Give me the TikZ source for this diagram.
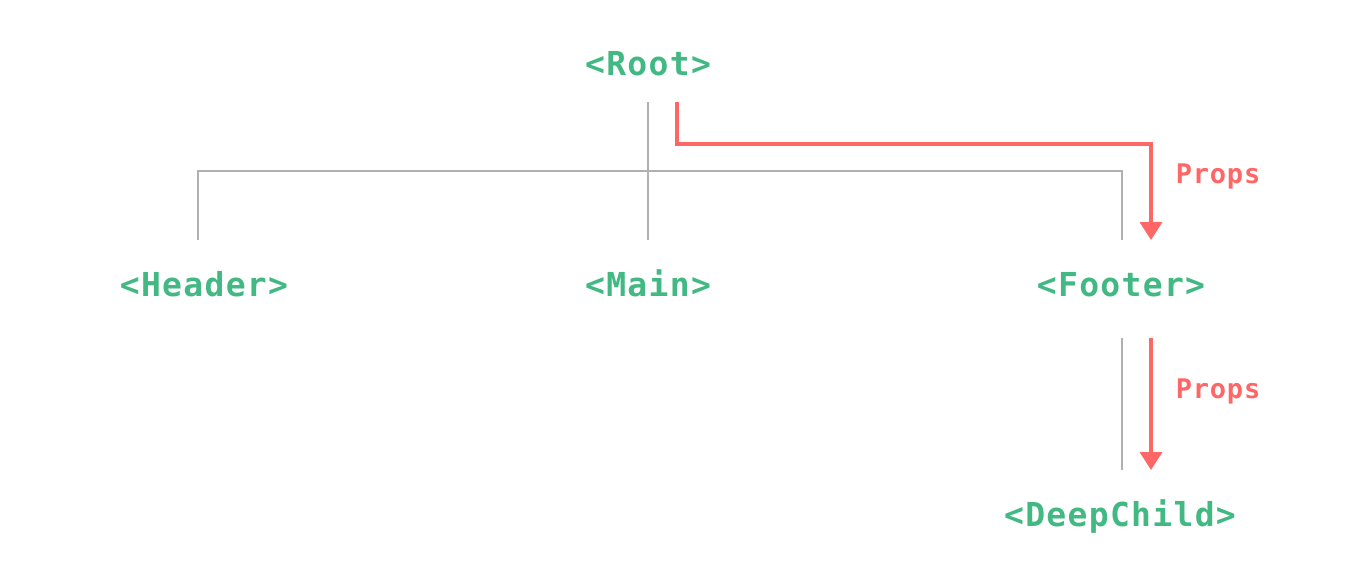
\documentclass[tikz,border=0pt]{standalone}
\usepackage{fontspec}
\usetikzlibrary{arrows.meta}
\newfontfamily\compfont[LetterSpace=4]{DejaVu Sans Mono Bold}
\newfontfamily\propfont[LetterSpace=3]{DejaVu Sans Mono Bold}
\definecolor{vuegreen}{HTML}{42B883}
\definecolor{propred}{HTML}{FF6666}
\definecolor{treegray}{HTML}{B0B0B0}
\tikzset{
  comp/.style={anchor=base, inner sep=0pt, text=vuegreen, font=\compfont\fontsize{33}{33}\selectfont},
  proplabel/.style={anchor=base, inner sep=0pt, text=propred, font=\propfont\fontsize{27}{27}\selectfont},
  treeline/.style={draw=treegray, line width=2pt},
  propline/.style={draw=propred, line width=3.5pt, -{Triangle[width=22pt,length=18pt]}},
}
\begin{document}
\begin{tikzpicture}[x=1pt,y=-1pt]
\useasboundingbox[fill=white] (0,0) rectangle (1358,576);
% component nodes
\node[comp] (root) at (648,75) {<Root>};
\node[comp] (header) at (204,296) {<Header>};
\node[comp] (main) at (648,296) {<Main>};
\node[comp] (footer) at (1121,296) {<Footer>};
\node[comp] (deep) at (1120,526) {<DeepChild>};
\node[proplabel] (p1) at (1218,183) {Props};
\node[proplabel] (p2) at (1218,398) {Props};
% tree coordinates
\coordinate (rootdown) at (648,102);
\coordinate (hleft) at (198,171);
\coordinate (hright) at (1122,171);
\coordinate (headerup) at (198,240);
\coordinate (mainup) at (648,240);
\coordinate (footerup) at (1122,240);
\coordinate (footerdown) at (1122,338);
\coordinate (deepup) at (1122,470);
% tree lines
\draw[treeline] (rootdown) -- (mainup);
\draw[treeline] (headerup) -- (hleft) -- (hright) -- (footerup);
\draw[treeline] (footerdown) -- (deepup);
% props arrows
\coordinate (r1start) at (677,102);
\coordinate (r1corner) at (677,144);
\coordinate (r1turn) at (1151,144);
\coordinate (r1end) at (1151,240);
\coordinate (r2start) at (1151,338);
\coordinate (r2end) at (1151,470);
\draw[propline] (r1start) -- (r1corner) -- (r1turn) -- (r1end);
\draw[propline] (r2start) -- (r2end);
\end{tikzpicture}
\end{document}
